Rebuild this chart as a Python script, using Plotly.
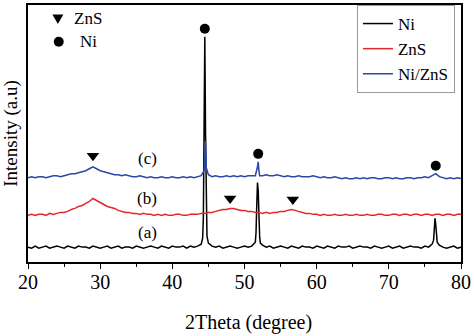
import numpy as np
import plotly.graph_objects as go

# 2-theta sampling grid (degrees), 0.5 deg steps from 20 to 80
two_theta = np.arange(20.0, 80.01, 0.5)

# Curve (a) Ni (black) (stacked offset included)
ni_base = [
    15, 14, 16, 14, 15, 16, 14, 15, 16, 15,
    14, 16, 15, 14, 16, 15, 15, 14, 16, 15,
    14, 15, 16, 14, 15, 16, 14, 15, 15, 14,
    16, 15, 14, 15, 16, 15, 14, 16, 15, 14,
    16, 15, 15, 16, 14, 16, 15, 16, 18, 227,
    19, 16, 15, 16, 14, 15, 16, 15, 14, 15,
    16, 15, 16, 20, 40, 17, 15, 16, 14, 15,
    16, 15, 14, 16, 15, 14, 16, 15, 15, 14,
    16, 15, 14, 16, 15, 14, 16, 15, 15, 16,
    14, 15, 16, 15, 15, 14, 16, 15, 14, 15,
    16, 14, 15, 16, 14, 15, 16, 15, 15, 14,
    16, 15, 18, 38, 17, 15, 14, 15, 16, 14,
    15,
]
ni_peak_x = [44.2, 44.3, 44.4, 44.6, 44.7, 44.8, 51.6, 51.7, 51.8, 51.9, 52.1, 52.2,
             76.2, 76.3, 76.4, 76.6, 76.7]
ni_peak_y = [24, 45, 125, 130, 48, 26, 30, 58, 80, 72, 25, 19,
             22, 34, 44, 27, 20]

# Curve (b) ZnS (red)
zns_base = [
    47, 48, 47, 48, 48, 47, 49, 48, 49, 50,
    50, 51, 53, 54, 56, 57, 59, 61, 64, 62,
    60, 58, 56, 55, 54, 52, 51, 50, 50, 49,
    49, 48, 49, 48, 48, 47, 48, 47, 48, 47,
    47, 48, 48, 47, 47, 48, 48, 48, 49, 49,
    50, 50, 51, 52, 53, 53, 54, 54, 53, 52,
    52, 51, 51, 50, 50, 49, 50, 49, 50, 50,
    51, 51, 52, 53, 52, 51, 50, 49, 49, 48,
    48, 47, 48, 47, 47, 48, 47, 47, 48, 47,
    47, 48, 47, 47, 48, 47, 47, 48, 48, 47,
    47, 48, 48, 47, 48, 48, 47, 48, 48, 47,
    48, 48, 47, 48, 48, 47, 48, 48, 47, 48,
    48,
]

# Curve (c) Ni/ZnS (blue)
nizns_base = [
    85, 86, 85, 86, 86, 85, 86, 87, 87, 86,
    87, 88, 89, 89, 90, 91, 92, 94, 96, 94,
    92, 91, 90, 89, 88, 88, 87, 88, 87, 86,
    86, 87, 86, 85, 86, 85, 85, 86, 85, 85,
    86, 85, 85, 86, 85, 86, 85, 86, 87, 110,
    88, 86, 87, 86, 86, 87, 86, 87, 86, 87,
    86, 87, 87, 87, 92, 87, 88, 87, 87, 88,
    87, 86, 87, 86, 86, 87, 86, 86, 86, 87,
    86, 85, 86, 85, 85, 86, 85, 84, 85, 84,
    84, 85, 84, 85, 84, 85, 85, 84, 84, 85,
    85, 84, 85, 84, 84, 85, 85, 84, 85, 85,
    86, 85, 87, 89, 86, 85, 84, 85, 84, 85,
    84,
]
nizns_peak_x = [44.4, 44.6, 44.7, 51.8, 51.9, 52.1]
nizns_peak_y = [92, 122, 95, 96, 101, 87]

# Phase markers
zns_mark_x = [29.0, 48.0, 56.7]
zns_mark_y = [107, 64, 63]
ni_mark_x = [44.5, 51.9, 76.5]
ni_mark_y = [235, 109, 97]

# Curve labels
curve_labels = ["(a)", "(b)", "(c)"]
curve_label_x = [36.5, 36.5, 36.5]
curve_label_y = [30, 64, 104]

x_ticks = [20, 30, 40, 50, 60, 70, 80]


def merge(base, px=None, py=None):
    d = {round(float(x), 2): y for x, y in zip(two_theta, base)}
    if px:
        for x, y in zip(px, py):
            d[round(x, 2)] = y
    xs = sorted(d)
    return xs, [d[x] for x in xs]


FONT = "Liberation Serif"

fig = go.Figure()
series = [
    ("Ni", merge(ni_base, ni_peak_x, ni_peak_y), "#000000"),
    ("ZnS", merge(zns_base), "#e3262b"),
    ("Ni/ZnS", merge(nizns_base, nizns_peak_x, nizns_peak_y), "#2b48a6"),
]
for name, (xs, ys), col in series:
    fig.add_trace(go.Scatter(x=xs, y=ys, mode="lines", name=name,
                             line=dict(color=col, width=1.5)))

fig.add_trace(go.Scatter(x=zns_mark_x, y=zns_mark_y, mode="markers", showlegend=False,
                         marker=dict(symbol="triangle-down", size=11, color="black")))
fig.add_trace(go.Scatter(x=ni_mark_x, y=ni_mark_y, mode="markers", showlegend=False,
                         marker=dict(symbol="circle", size=10, color="black")))

for t, x, y in zip(curve_labels, curve_label_x, curve_label_y):
    fig.add_annotation(x=x, y=y, xref="x", yref="y", text=t, showarrow=False,
                       font=dict(family=FONT, size=17, color="black"))

# top-left symbol key
fig.add_shape(type="path", xref="paper", yref="paper", xsizemode="pixel", ysizemode="pixel",
              xanchor=0.069, yanchor=0.946, path="M -5.5,4.5 L 5.5,4.5 L 0,-5 Z",
              fillcolor="black", line=dict(width=0))
fig.add_shape(type="circle", xref="paper", yref="paper", xsizemode="pixel", ysizemode="pixel",
              xanchor=0.071, yanchor=0.857, x0=-5, x1=5, y0=-5, y1=5,
              fillcolor="black", line=dict(width=0))
fig.add_annotation(x=0.101, y=0.946, xref="paper", yref="paper", text="ZnS", showarrow=False,
                   xanchor="left", yanchor="middle", font=dict(family=FONT, size=17, color="black"))
fig.add_annotation(x=0.115, y=0.857, xref="paper", yref="paper", text="Ni", showarrow=False,
                   xanchor="left", yanchor="middle", font=dict(family=FONT, size=17, color="black"))

# axis titles
fig.add_annotation(x=-0.041, y=0.5, xref="paper", yref="paper", text="Intensity (a.u)",
                   textangle=-90, showarrow=False, xanchor="center", yanchor="middle",
                   font=dict(family=FONT, size=19, color="black"))
fig.add_annotation(x=0.51, y=-0.236, xref="paper", yref="paper", text="2Theta (degree)",
                   showarrow=False, xanchor="center", yanchor="middle",
                   font=dict(family=FONT, size=20, color="black"))

fig.update_layout(
    width=474, height=336,
    margin=dict(l=28, r=11, t=3, b=74),
    paper_bgcolor="white", plot_bgcolor="white",
    showlegend=True,
    legend=dict(x=0.986, y=1.0, xanchor="right", yanchor="top",
                bgcolor="white", bordercolor="#9a9a9a", borderwidth=1,
                font=dict(family=FONT, size=17, color="black"),
                tracegroupgap=0, itemwidth=30),
    font=dict(family=FONT, color="black"),
)
fig.update_xaxes(range=[20, 80], tickvals=x_ticks, ticks="outside", ticklen=5, tickwidth=1.3,
                 tickcolor="black", showline=True, linecolor="black", linewidth=1.5, mirror=True,
                 showgrid=False, zeroline=False, tickfont=dict(family=FONT, size=20, color="black"),
                 ticklabelstandoff=-4,
                 minor=dict(dtick=5, ticks="outside", ticklen=3, tickcolor="black", tickwidth=1.2))
fig.update_yaxes(range=[0, 259], showticklabels=False, ticks="", showline=True, linecolor="black",
                 linewidth=1.5, mirror=True, showgrid=False, zeroline=False)

fig.write_html("out.html")
